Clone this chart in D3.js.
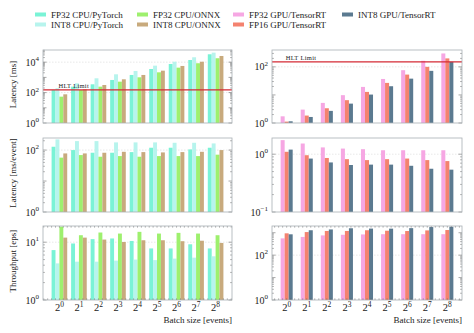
<!DOCTYPE html>
<html>
<head>
<meta charset="utf-8">
<script src="https://cdn.jsdelivr.net/npm/d3@7"></script>
<style>
  body { margin: 0; background: #fff; }
  text { font-family: "Liberation Serif", "DejaVu Serif", serif; fill: #222; }
</style>
</head>
<body>
<svg id="chart" width="474" height="333"></svg>
<script>
// Batch sizes are powers of two: 2^0 ... 2^8 events
const batchExponents = [0, 1, 2, 3, 4, 5, 6, 7, 8];

const cpuNames = ["FP32 CPU/PyTorch", "INT8 CPU/PyTorch", "FP32 CPU/ONNX", "INT8 CPU/ONNX"];
const gpuNames = ["FP32 GPU/TensorRT", "FP16 GPU/TensorRT", "INT8 GPU/TensorRT"];
const cpuColors = ["#7af3d6", "#b7f4ed", "#9ef06e", "#c8aa7d"];
const gpuColors = ["#f6a7e3", "#f4826f", "#5b7a90"];

// Latency per batch [ms], one row per CPU series
const cpuLatency = [
  [148, 245, 350, 676, 1440, 3560, 7600, 13900, 33000],
  [192, 408, 870, 1590, 2640, 5900, 10700, 21000, 42300],
  [54, 148, 245, 522, 1010, 2150, 4360, 8500, 18100],
  [77, 164, 316, 747, 1440, 2760, 5630, 10700, 25500]
];
// Latency per event [ms/event]
const cpuLatencyPerEvent = [
  [128, 100, 82, 82, 86, 119, 119, 105, 119],
  [221, 195, 195, 177, 177, 177, 172, 172, 164],
  [57, 69, 61, 64, 61, 64, 64, 64, 71],
  [78, 78, 82, 88, 86, 84, 86, 88, 100]
];
// Throughput [events per second]
const cpuThroughput = [
  [7.3, 9.5, 11.3, 11.6, 10.5, 7.8, 7.8, 9.2, 7.8],
  [4.3, 4.6, 4.6, 4.8, 5.0, 4.9, 5.2, 5.4, 5.7],
  [18.6, 13.2, 14.7, 14.1, 15.1, 14.1, 14.5, 14.1, 13.2],
  [12.0, 12.0, 11.1, 10.1, 10.8, 10.8, 10.4, 10.6, 9.7]
];

const gpuLatency = [
  [1.73, 3.0, 5.2, 9.8, 19.3, 37, 76, 164, 300],
  [1.12, 1.84, 3.35, 6.5, 12.8, 26.8, 53, 100, 200],
  [1.15, 1.64, 2.7, 4.9, 10.3, 20.4, 38, 72, 151]
];
const gpuLatencyPerEvent = [
  [1.75, 1.53, 1.31, 1.25, 1.22, 1.17, 1.17, 1.17, 1.17],
  [1.10, 0.96, 0.86, 0.82, 0.79, 0.82, 0.84, 0.79, 0.76],
  [1.20, 0.84, 0.72, 0.65, 0.66, 0.66, 0.63, 0.56, 0.54]
];
const gpuThroughput = [
  [560, 650, 760, 810, 840, 860, 860, 860, 860],
  [940, 1070, 1200, 1200, 1290, 1230, 1190, 1270, 1320],
  [850, 1290, 1400, 1580, 1530, 1520, 1600, 1790, 1850]
];

// Trigger latency budget [ms]
const hltLimit = 150;
const hltLabel = "HLT Limit";

const yLabels = ["Latency [ms]", "Latency [ms/event]", "Throughput [eps]"];
const xLabel = "Batch size [events]";

// ---------- layout ----------
const svg = d3.select("#chart");
const cols = [
  { x0: 43, x1: 232, pad: 0.84, names: cpuNames, colors: cpuColors },
  { x0: 272, x1: 462, pad: 0.73, names: gpuNames, colors: gpuColors }
];
const rows = [{ y0: 50, y1: 123 }, { y0: 138, y1: 212 }, { y0: 226, y1: 300 }];

const panels = [
  { c: 0, r: 0, data: cpuLatency, dom: [1, Math.pow(10, 4.8)], ticks: [0, 2, 4], hlt: true },
  { c: 1, r: 0, data: gpuLatency, dom: [1, Math.pow(10, 2.6)], ticks: [0, 2], hlt: true },
  { c: 0, r: 1, data: cpuLatencyPerEvent, dom: [1, Math.pow(10, 2.39)], ticks: [0, 2] },
  { c: 1, r: 1, data: gpuLatencyPerEvent, dom: [0.1, Math.pow(10, 0.28)], ticks: [-1, 0] },
  { c: 0, r: 2, data: cpuThroughput, dom: [1, Math.pow(10, 1.28)], ticks: [0, 1], bottom: true },
  { c: 1, r: 2, data: gpuThroughput, dom: [1, Math.pow(10, 3.3)], ticks: [0, 2], bottom: true }
];

function powerText(sel, base, exp, bigSize, smallSize) {
  sel.append("tspan").attr("font-size", bigSize).text(base);
  sel.append("tspan").attr("font-size", smallSize).attr("dy", -bigSize * 0.42)
    .text(exp < 0 ? "\u2212" + (-exp) : String(exp));
}

panels.forEach(p => {
  const col = cols[p.c], row = rows[p.r];
  const n = col.names.length;
  const x = d3.scaleLinear().domain([-col.pad, 8 + col.pad]).range([col.x0, col.x1]);
  const y = d3.scaleLog().domain(p.dom).range([row.y1, row.y0]);
  const g = svg.append("g");

  // faint grid at labelled decades
  p.ticks.forEach(e => {
    const v = Math.pow(10, e);
    if (v <= p.dom[0]) return;
    g.append("line").attr("x1", col.x0).attr("x2", col.x1)
      .attr("y1", y(v)).attr("y2", y(v))
      .attr("stroke", "#d8d8d8").attr("stroke-width", 0.6).attr("stroke-dasharray", "1.5,1.5");
  });

  // bars
  const bw = 0.2;
  p.data.forEach((series, j) => {
    const off = (j - (n - 1) / 2) * bw;
    g.selectAll(null).data(series).enter().append("rect")
      .attr("x", (d, i) => x(batchExponents[i] + off - bw / 2))
      .attr("width", x(bw) - x(0))
      .attr("y", d => y(d))
      .attr("height", d => y(p.dom[0]) - y(d))
      .attr("fill", col.colors[j]);
  });

  // trigger limit line
  if (p.hlt) {
    g.append("line").attr("x1", col.x0).attr("x2", col.x1)
      .attr("y1", y(hltLimit)).attr("y2", y(hltLimit))
      .attr("stroke", "#d42a35").attr("stroke-width", 1.3);
    g.append("text").attr("x", x(0) - 1).attr("y", y(hltLimit) - 2)
      .attr("font-size", 6.5).attr("letter-spacing", 0.3).text(hltLabel);
  }

  // y ticks (major and minor), inward on both sides
  const lo = Math.floor(Math.log10(p.dom[0])), hi = Math.ceil(Math.log10(p.dom[1]));
  for (let e = lo; e <= hi; e++) {
    for (let m = 1; m <= 9; m++) {
      const v = m * Math.pow(10, e);
      if (v < p.dom[0] || v > p.dom[1]) continue;
      const len = m === 1 ? 3.5 : 1.8;
      const yy = y(v);
      g.append("line").attr("x1", col.x0).attr("x2", col.x0 + len).attr("y1", yy).attr("y2", yy)
        .attr("stroke", "#555").attr("stroke-width", 0.5);
      g.append("line").attr("x1", col.x1).attr("x2", col.x1 - len).attr("y1", yy).attr("y2", yy)
        .attr("stroke", "#555").attr("stroke-width", 0.5);
    }
  }
  p.ticks.forEach(e => {
    const t = g.append("text").attr("x", col.x0 - 4).attr("y", y(Math.pow(10, e)) + 3.5)
      .attr("text-anchor", "end");
    powerText(t, "10", e, 10, 7);
  });

  // x minor ticks along the bottom row
  const xt = p.bottom ? d3.range(-col.pad, 8 + col.pad, 0.2).map(v => Math.round(v * 5) / 5) : [];
  xt.forEach(v => {
    if (v < -col.pad || v > 8 + col.pad) return;
    [[row.y1, -1.6], [row.y0, 1.6]].forEach(([yy, s]) => {
      g.append("line").attr("x1", x(v)).attr("x2", x(v)).attr("y1", yy).attr("y2", yy + s)
        .attr("stroke", "#555").attr("stroke-width", 0.5);
    });
  });

  // frame
  g.append("rect").attr("x", col.x0).attr("y", row.y0)
    .attr("width", col.x1 - col.x0).attr("height", row.y1 - row.y0)
    .attr("fill", "none").attr("stroke", "#a9b0b4").attr("stroke-width", 0.8);

  if (p.bottom) {
    batchExponents.forEach(e => {
      const t = g.append("text").attr("x", x(e)).attr("y", row.y1 + 11).attr("text-anchor", "middle");
      powerText(t, "2", e, 10.5, 7.5);
    });
    g.append("text").attr("x", col.x1).attr("y", row.y1 + 23).attr("text-anchor", "end")
      .attr("font-size", 9).text(xLabel);
  }

  if (p.c === 0) {
    g.append("text")
      .attr("transform", `translate(16,${(row.y0 + row.y1) / 2 - 2}) rotate(-90)`)
      .attr("text-anchor", "middle").attr("font-size", 9).text(yLabels[p.r]);
  }
});

// ---------- legend ----------
const legendItems = [
  { name: cpuNames[0], color: cpuColors[0] }, { name: cpuNames[1], color: cpuColors[1] },
  { name: cpuNames[2], color: cpuColors[2] }, { name: cpuNames[3], color: cpuColors[3] },
  { name: gpuNames[0], color: gpuColors[0] }, { name: gpuNames[1], color: gpuColors[1] },
  { name: gpuNames[2], color: gpuColors[2] }
];
const legendCols = [35, 137, 233, 342];
const legendRows = [14.5, 24.5];
const lg = svg.append("g");
legendItems.forEach((d, i) => {
  const cx = legendCols[Math.floor(i / 2)], cy = legendRows[i % 2];
  lg.append("rect").attr("x", cx).attr("y", cy - 2).attr("width", 11).attr("height", 4).attr("fill", d.color);
  lg.append("text").attr("x", cx + 16).attr("y", cy + 3).attr("font-size", 9).text(d.name);
});
</script>
</body>
</html>
